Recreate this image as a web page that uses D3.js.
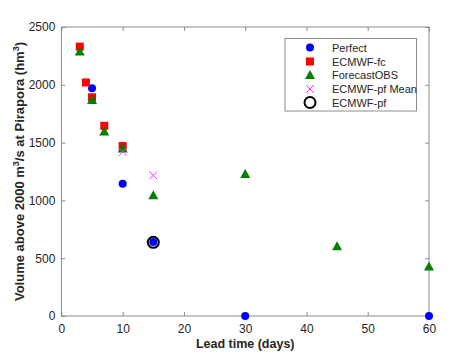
<!DOCTYPE html>
<html><head><meta charset="utf-8">
<script src="https://cdn.jsdelivr.net/npm/d3@7"></script>
<style>body{margin:0;background:#fff}svg{display:block}text{font-family:"Liberation Sans",Arial,sans-serif}</style>
</head><body>
<svg id="c" width="474" height="355"></svg>
<script>
const perfectX = [5, 10, 15, 30, 60];
const perfectY = [1970, 1143, 640, 0, 0];
const fcX = [3, 4, 5, 7, 10];
const fcY = [2330, 2020, 1892, 1645, 1470];
const obsX = [3, 5, 7, 10, 15, 30, 45, 60];
const obsY = [2288, 1868, 1595, 1450, 1044, 1228, 603, 428];
const pfMeanX = [10, 15];
const pfMeanY = [1420, 1217];
const pfX = [15];
const pfY = [637];
const xTicks = [0, 10, 20, 30, 40, 50, 60];
const yTicks = [0, 500, 1000, 1500, 2000, 2500];
const legendLabels = ["Perfect", "ECMWF-fc", "ForecastOBS", "ECMWF-pf Mean", "ECMWF-pf"];

const svg = d3.select("#c");
const L = 61.4, R = 429, T = 27, B = 316;
const x = d3.scaleLinear().domain([0, 60]).range([L, R]);
const y = d3.scaleLinear().domain([0, 2500]).range([B, T]);
const axisCol = "#8c8c8c", txtCol = "#262626";
const fmt = d3.format("d");

function styleAxis(g, labels) {
  g.select(".domain").remove();
  g.selectAll(".tick line").attr("stroke", axisCol);
  g.selectAll(".tick text").attr("fill", txtCol).attr("font-size", 12);
  if (!labels) g.selectAll(".tick text").remove();
}
svg.append("g").attr("transform", `translate(0,${B})`)
  .call(d3.axisBottom(x).tickValues(xTicks).tickFormat(fmt).tickSize(-4).tickPadding(8)).call(g => styleAxis(g, true));
svg.append("g").attr("transform", `translate(0,${T})`)
  .call(d3.axisTop(x).tickValues(xTicks).tickSize(-4)).call(g => styleAxis(g, false));
svg.append("g").attr("transform", `translate(${L},0)`)
  .call(d3.axisLeft(y).tickValues(yTicks).tickFormat(fmt).tickSize(-4).tickPadding(6)).call(g => styleAxis(g, true));
svg.append("g").attr("transform", `translate(${R},0)`)
  .call(d3.axisRight(y).tickValues(yTicks).tickSize(-4)).call(g => styleAxis(g, false));
svg.append("rect").attr("x", L).attr("y", T).attr("width", R - L).attr("height", B - T)
  .attr("fill", "none").attr("stroke", axisCol).attr("stroke-width", 1);

// axis labels
svg.append("text").attr("x", (L + R) / 2).attr("y", 348).attr("text-anchor", "middle")
  .attr("font-size", 12.5).attr("font-weight", "bold").attr("fill", txtCol).text("Lead time (days)");
const yl = svg.append("text").attr("transform", `translate(24,${(T + B) / 2}) rotate(-90)`)
  .attr("text-anchor", "middle").attr("font-size", 13).attr("font-weight", "bold").attr("fill", txtCol);
yl.append("tspan").text("Volume above 2000 m");
yl.append("tspan").attr("dy", -5).attr("font-size", 9).text("3");
yl.append("tspan").attr("dy", 5).text("/s at Pirapora (hm");
yl.append("tspan").attr("dy", -5).attr("font-size", 9).text("3");
yl.append("tspan").attr("dy", 5).text(")");

// markers
const sym = {
  perfect: (g, cx, cy) => g.append("circle").attr("cx", cx).attr("cy", cy).attr("r", 4).attr("fill", "#0000ff"),
  fc: (g, cx, cy) => g.append("rect").attr("x", cx - 4).attr("y", cy - 4).attr("width", 8).attr("height", 8).attr("fill", "#ff0000"),
  obs: (g, cx, cy) => g.append("path").attr("d", `M${cx},${cy - 5}L${cx + 5},${cy + 4}L${cx - 5},${cy + 4}Z`).attr("fill", "#007f00"),
  mean: (g, cx, cy) => g.append("path").attr("d", `M${cx - 4},${cy - 4}L${cx + 4},${cy + 4}M${cx - 4},${cy + 4}L${cx + 4},${cy - 4}`).attr("stroke", "#ff33ff").attr("stroke-width", 1).attr("fill", "none"),
  pf: (g, cx, cy) => g.append("circle").attr("cx", cx).attr("cy", cy).attr("r", 5.5).attr("fill", "none").attr("stroke", "#000").attr("stroke-width", 2)
};
const plot = svg.append("g");
perfectX.forEach((d, i) => sym.perfect(plot, x(d), y(perfectY[i])));
fcX.forEach((d, i) => sym.fc(plot, x(d), y(fcY[i])));
obsX.forEach((d, i) => sym.obs(plot, x(d), y(obsY[i])));
pfMeanX.forEach((d, i) => sym.mean(plot, x(d), y(pfMeanY[i])));
pfX.forEach((d, i) => sym.pf(plot, x(d), y(pfY[i])));

// legend
const lg = svg.append("g");
lg.append("rect").attr("x", 285).attr("y", 38.5).attr("width", 131.5).attr("height", 72.5)
  .attr("fill", "#fff").attr("stroke", "#8c8c8c");
const keys = ["perfect", "fc", "obs", "mean", "pf"];
const ly = [47.5, 61.5, 75, 89, 102.5];
keys.forEach((k, i) => {
  sym[k](lg, 310, ly[i]);
  lg.append("text").attr("x", 332).attr("y", ly[i] + 4).attr("font-size", 11).attr("fill", txtCol).text(legendLabels[i]);
});
</script>
</body></html>
